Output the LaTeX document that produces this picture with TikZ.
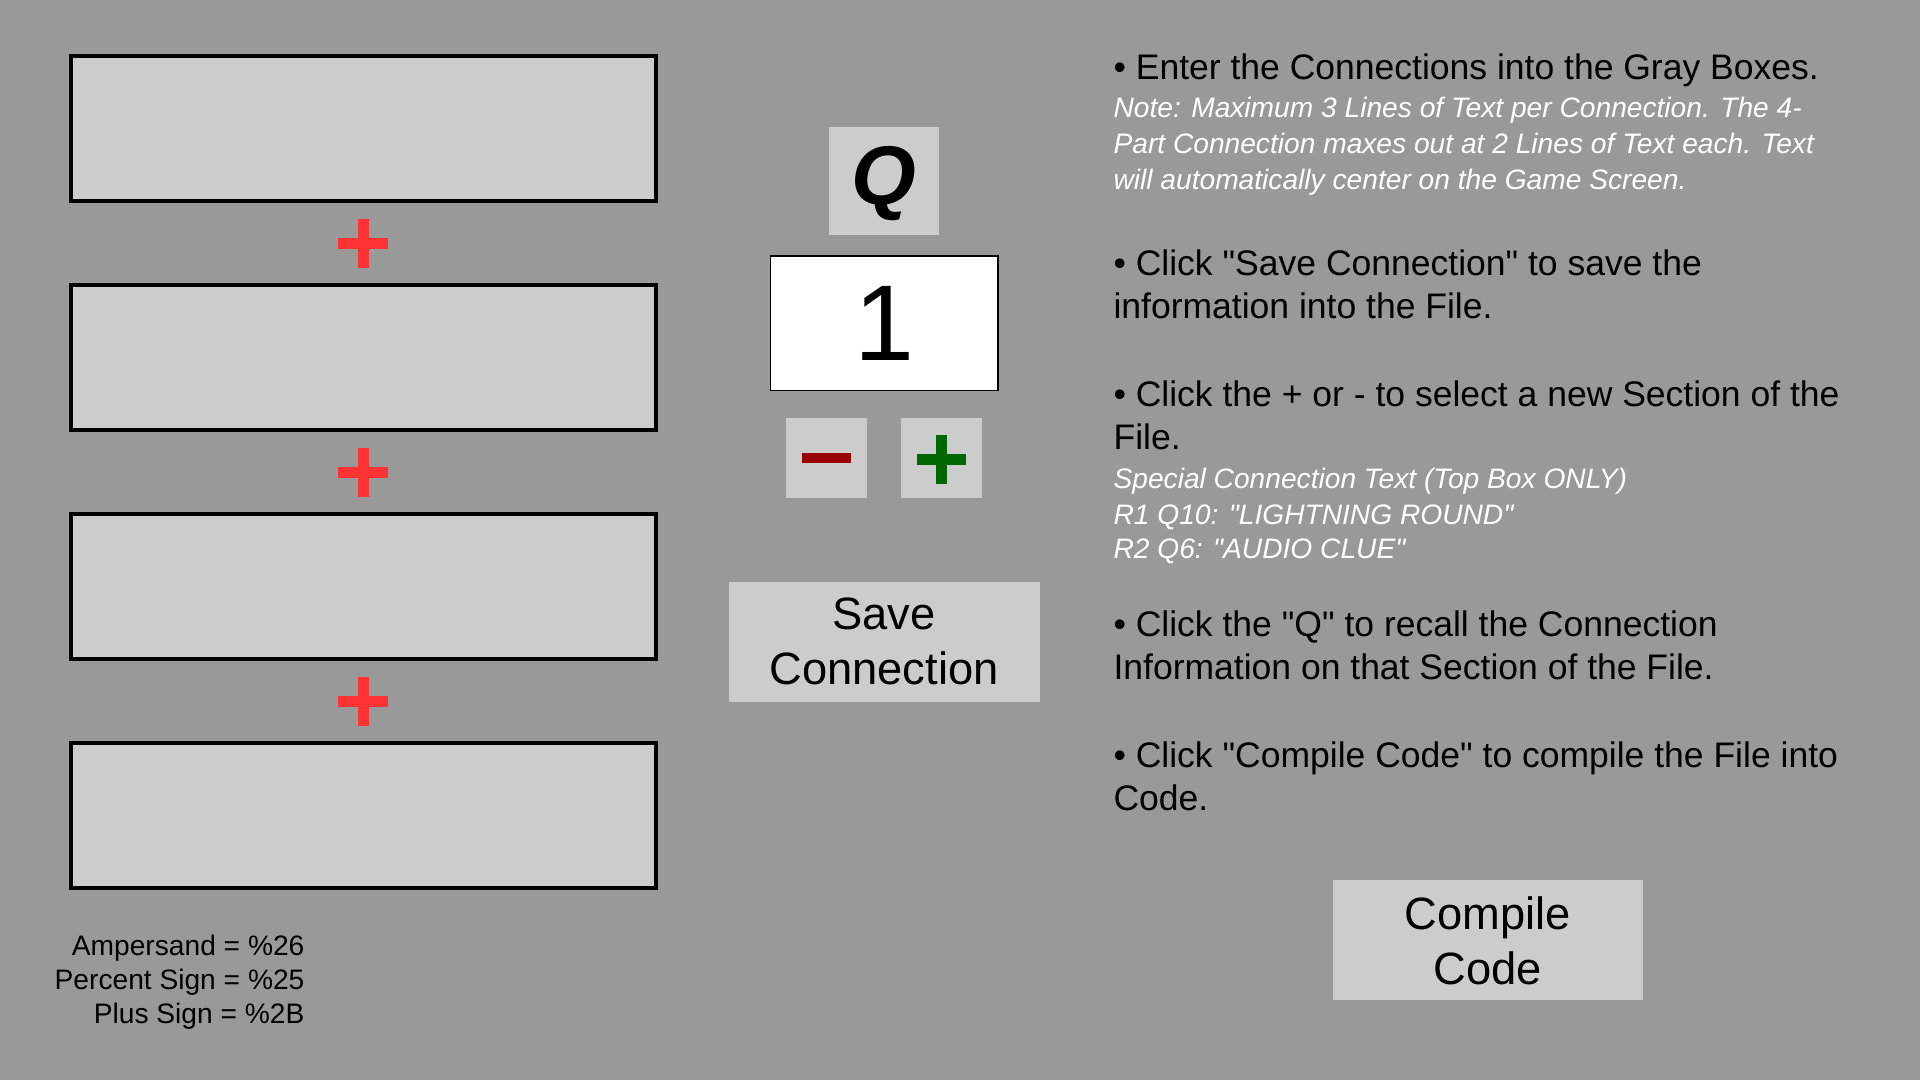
\documentclass[tikz,border=0pt]{standalone}
\usepackage{fontspec}
\setmainfont{Liberation Sans}
\newfontfamily\qfont{Liberation Sans}
\newcommand{\qq}{{\qfont\symbol{34}}}
\begin{document}
\begin{tikzpicture}[x=0.5pt,y=-0.5pt,
  slot/.style={draw=black,line width=1.5pt,fill=boxgray},
  ln/.style={anchor=base west,inner sep=0pt,font=\fontsize{14.5}{17}\selectfont},
  it/.style={anchor=base west,inner sep=0pt,text=white,font=\fontsize{11.5}{14}\selectfont\itshape},
  plusmark/.style={inner sep=0pt,minimum size=0pt}]
\definecolor{bg}{HTML}{999999}
\definecolor{boxgray}{HTML}{CCCCCC}
\definecolor{plusred}{HTML}{FF3333}
\definecolor{darkred}{HTML}{990000}
\definecolor{dgreen}{HTML}{006600}
\fill[bg] (0,0) rectangle (1568,882);
\useasboundingbox (0,0) rectangle (1568,882);
\draw[slot] (58,46) rectangle (536,164) node[midway] (b1) {};
\draw[slot] (58,233) rectangle (536,351) node[midway] (b2) {};
\draw[slot] (58,420) rectangle (536,538) node[midway] (b3) {};
\draw[slot] (58,607) rectangle (536,725) node[midway] (b4) {};
\foreach \y/\n in {199/p1,386/p2,573/p3}{
  \fill[plusred] (276,\y-4.5) rectangle (317,\y+4.5);
  \fill[plusred] (292,\y-20) rectangle (301,\y+20);
  \node[plusmark] (\n) at (296,\y) {};
}
\fill[boxgray] (677,104) rectangle (767,192);
\node (q) at (722,150) {\fontsize{34}{34}\selectfont\bfseries\itshape Q};
\draw[fill=white,line width=0.5pt] (629,209) rectangle (815,319);
\node (n) at (722,264) {\fontsize{44}{44}\selectfont 1};
\fill[boxgray] (642,341) rectangle (708,407);
\fill[boxgray] (736,341) rectangle (802,407);
\fill[darkred] (655,370) rectangle (695,378);
\node (mn) at (675,374) {};
\fill[dgreen] (749,370.5) rectangle (789,379.5);
\fill[dgreen] (764.5,355) rectangle (773.5,395);
\node (pl) at (769,375) {};
\fill[boxgray] (595,475) rectangle (849,573);
\node[align=center,font=\fontsize{18.5}{22.5}\selectfont] (save) at (722,524) {Save\\Connection};
\fill[boxgray] (1089,719) rectangle (1342,817);
\node[align=center,font=\fontsize{18.5}{22.5}\selectfont] (cc) at (1215,768) {Compile\\Code};
\node[align=right,anchor=north east,inner sep=0pt,font=\fontsize{11.5}{14}\selectfont] (leg) at (249,763) {Ampersand = \%26\\Percent Sign = \%25\\Plus Sign = \%2B};
\node[ln] at (909,65) {• Enter the Connections into the Gray Boxes.};
\node[it] at (909,96) {Note: Maximum 3 Lines of Text per Connection. The 4-};
\node[it] at (909,125) {Part Connection maxes out at 2 Lines of Text each. Text};
\node[it] at (909,155) {will automatically center on the Game Screen.};
\node[ln] at (909,225) {• Click \qq Save Connection\qq{} to save the};
\node[ln] at (909,260) {information into the File.};
\node[ln] at (909,332) {• Click the + or - to select a new Section of the};
\node[ln] at (909,367) {File.};
\node[it] at (909,399) {Special Connection Text (Top Box ONLY)};
\node[it] at (909,428) {R1 Q10: \qq LIGHTNING ROUND\qq};
\node[it] at (909,456) {R2 Q6: \qq AUDIO CLUE\qq};
\node[ln] at (909,520) {• Click the \qq Q\qq{} to recall the Connection};
\node[ln] at (909,555) {Information on that Section of the File.};
\node[ln] at (909,627) {• Click \qq Compile Code\qq{} to compile the File into};
\node[ln] at (909,662) {Code.};
\end{tikzpicture}
\end{document}
